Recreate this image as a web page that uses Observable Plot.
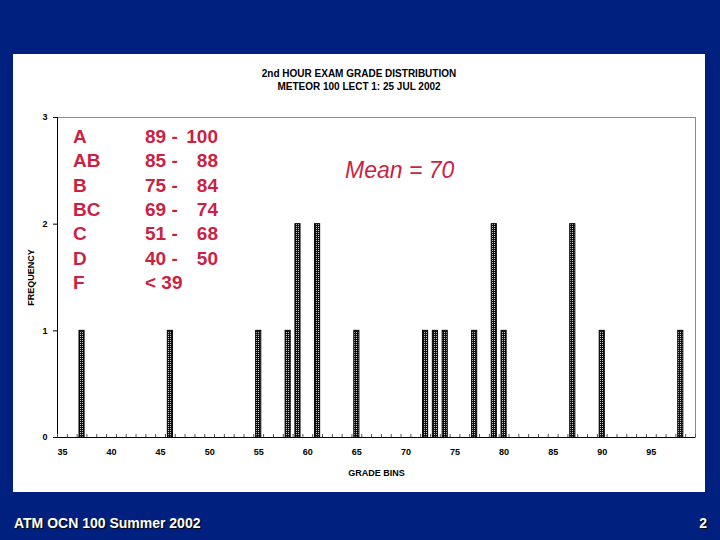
<!DOCTYPE html>
<html>
<head>
<meta charset="utf-8">
<script src="https://cdn.jsdelivr.net/npm/d3@7"></script>
<script src="https://cdn.jsdelivr.net/npm/@observablehq/plot@0.6"></script>
<style>
  html, body { margin: 0; padding: 0; }
  body { width: 720px; height: 540px; background: #00207f; position: relative; overflow: hidden;
         font-family: Arial, "Liberation Sans", Helvetica, sans-serif; }
  #panel { position: absolute; left: 13px; top: 54px; width: 692px; height: 438px; background: #fff; }
  #chart { position: absolute; left: 0; top: 0; }
  .title { position: absolute; left: 0; width: 692px; text-align: center; font-weight: bold; font-size: 10px; color: #000; }
  .key { position: absolute; color: #cc1f42; font-weight: bold; font-size: 19px; line-height: 19px; }
  #mean { position: absolute; left: 332px; top: 103px; color: #cc1f42; font-style: italic; font-size: 23px; }
  .foot { position: absolute; top: 515px; color: #fff; font-weight: bold; font-size: 14px; text-shadow: 1px 1px 1px #000; }
</style>
</head>
<body>
<div id="panel">
  <div id="chart"></div>
  <div class="title" style="top:14px">2nd HOUR EXAM GRADE DISTRIBUTION</div>
  <div class="title" style="top:27px">METEOR 100 LECT 1: 25 JUL 2002</div>
  <div id="keybox"></div>
  <div id="mean"></div>
</div>
<div class="foot" style="left:14px">ATM OCN 100 Summer 2002</div>
<div class="foot" style="right:13px">2</div>
<script>
// Data
const grades = [37, 46, 55, 58, 59, 61, 65, 72, 73, 74, 77, 79, 80, 87, 90, 98];
const freqs  = [1, 1, 1, 1, 2, 2, 1, 1, 1, 1, 1, 2, 1, 2, 1, 1];
const binFirst = 35, binLast = 99;
const xTickLabels = [35, 40, 45, 50, 55, 60, 65, 70, 75, 80, 85, 90, 95];
const yTickLabels = [0, 1, 2, 3];
const keyLetters = ["A", "AB", "B", "BC", "C", "D", "F"];
const keyLows    = [89, 85, 75, 69, 51, 40, null];
const keyHighs   = [100, 88, 84, 74, 68, 50, 39];
const meanGrade = 70;

const data = grades.map((g, i) => ({grade: g, freq: freqs[i]}));
const boundaries = d3.range(binFirst - 0.5, binLast + 1, 1);

const svg = Plot.plot({
  width: 692,
  height: 438,
  marginLeft: 44,
  marginRight: 10,
  marginTop: 63,
  marginBottom: 55,
  style: {fontFamily: "Arial, 'Liberation Sans', sans-serif", fontSize: "9px", fontWeight: "bold", color: "#000", background: "transparent"},
  x: {domain: [binFirst - 0.5, binLast + 0.5]},
  y: {domain: [0, 3]},
  marks: [
    Plot.frame({stroke: "#8c8c8c"}),
    Plot.rectY(data, {
      x1: d => d.grade - 0.26, x2: d => d.grade + 0.26, y1: 0, y2: "freq",
      fill: "url(#dotfill)", stroke: "#000", strokeWidth: 1
    }),
    Plot.ruleY([0], {stroke: "#000"}),
    Plot.ruleX([binFirst - 0.5], {stroke: "#000"}),
    Plot.axisX(boundaries, {tickSize: -3, tickFormat: () => "", stroke: "#555", label: null}),
    Plot.axisX(xTickLabels, {tickSize: 0, tickPadding: 11, tickFormat: d3.format("d"), label: "GRADE BINS", labelAnchor: "center", labelOffset: 38, labelArrow: "none"}),
    Plot.axisY(yTickLabels, {tickSize: 4, tickPadding: 6, tickFormat: d3.format("d"), label: "FREQUENCY", labelAnchor: "center", labelOffset: 30, labelArrow: "none"})
  ]
});

// dotted bar fill pattern
const defs = d3.select(svg).insert("defs", ":first-child");
const pat = defs.append("pattern").attr("id", "dotfill").attr("width", 2).attr("height", 2).attr("patternUnits", "userSpaceOnUse");
pat.append("rect").attr("width", 2).attr("height", 2).attr("fill", "#111");
pat.append("rect").attr("x", 1).attr("width", 1).attr("height", 1).attr("fill", "#c8c8c8");

document.getElementById("chart").appendChild(svg);

// grade key
const keybox = document.getElementById("keybox");
keyLetters.forEach((L, i) => {
  const top = 73 + i * 24.3;
  const a = document.createElement("div");
  a.className = "key"; a.style.left = "60px"; a.style.top = top + "px"; a.textContent = L;
  keybox.appendChild(a);
  if (keyLows[i] != null) {
    const b = document.createElement("div");
    b.className = "key"; b.style.left = "132px"; b.style.top = top + "px"; b.textContent = keyLows[i] + " -";
    keybox.appendChild(b);
    const c = document.createElement("div");
    c.className = "key"; c.style.left = "165px"; c.style.width = "40px"; c.style.textAlign = "right";
    c.style.top = top + "px"; c.textContent = keyHighs[i];
    keybox.appendChild(c);
  } else {
    const b = document.createElement("div");
    b.className = "key"; b.style.left = "132px"; b.style.top = top + "px"; b.textContent = "< " + keyHighs[i];
    keybox.appendChild(b);
  }
});
document.getElementById("mean").textContent = "Mean = " + meanGrade;
</script>
</body>
</html>
